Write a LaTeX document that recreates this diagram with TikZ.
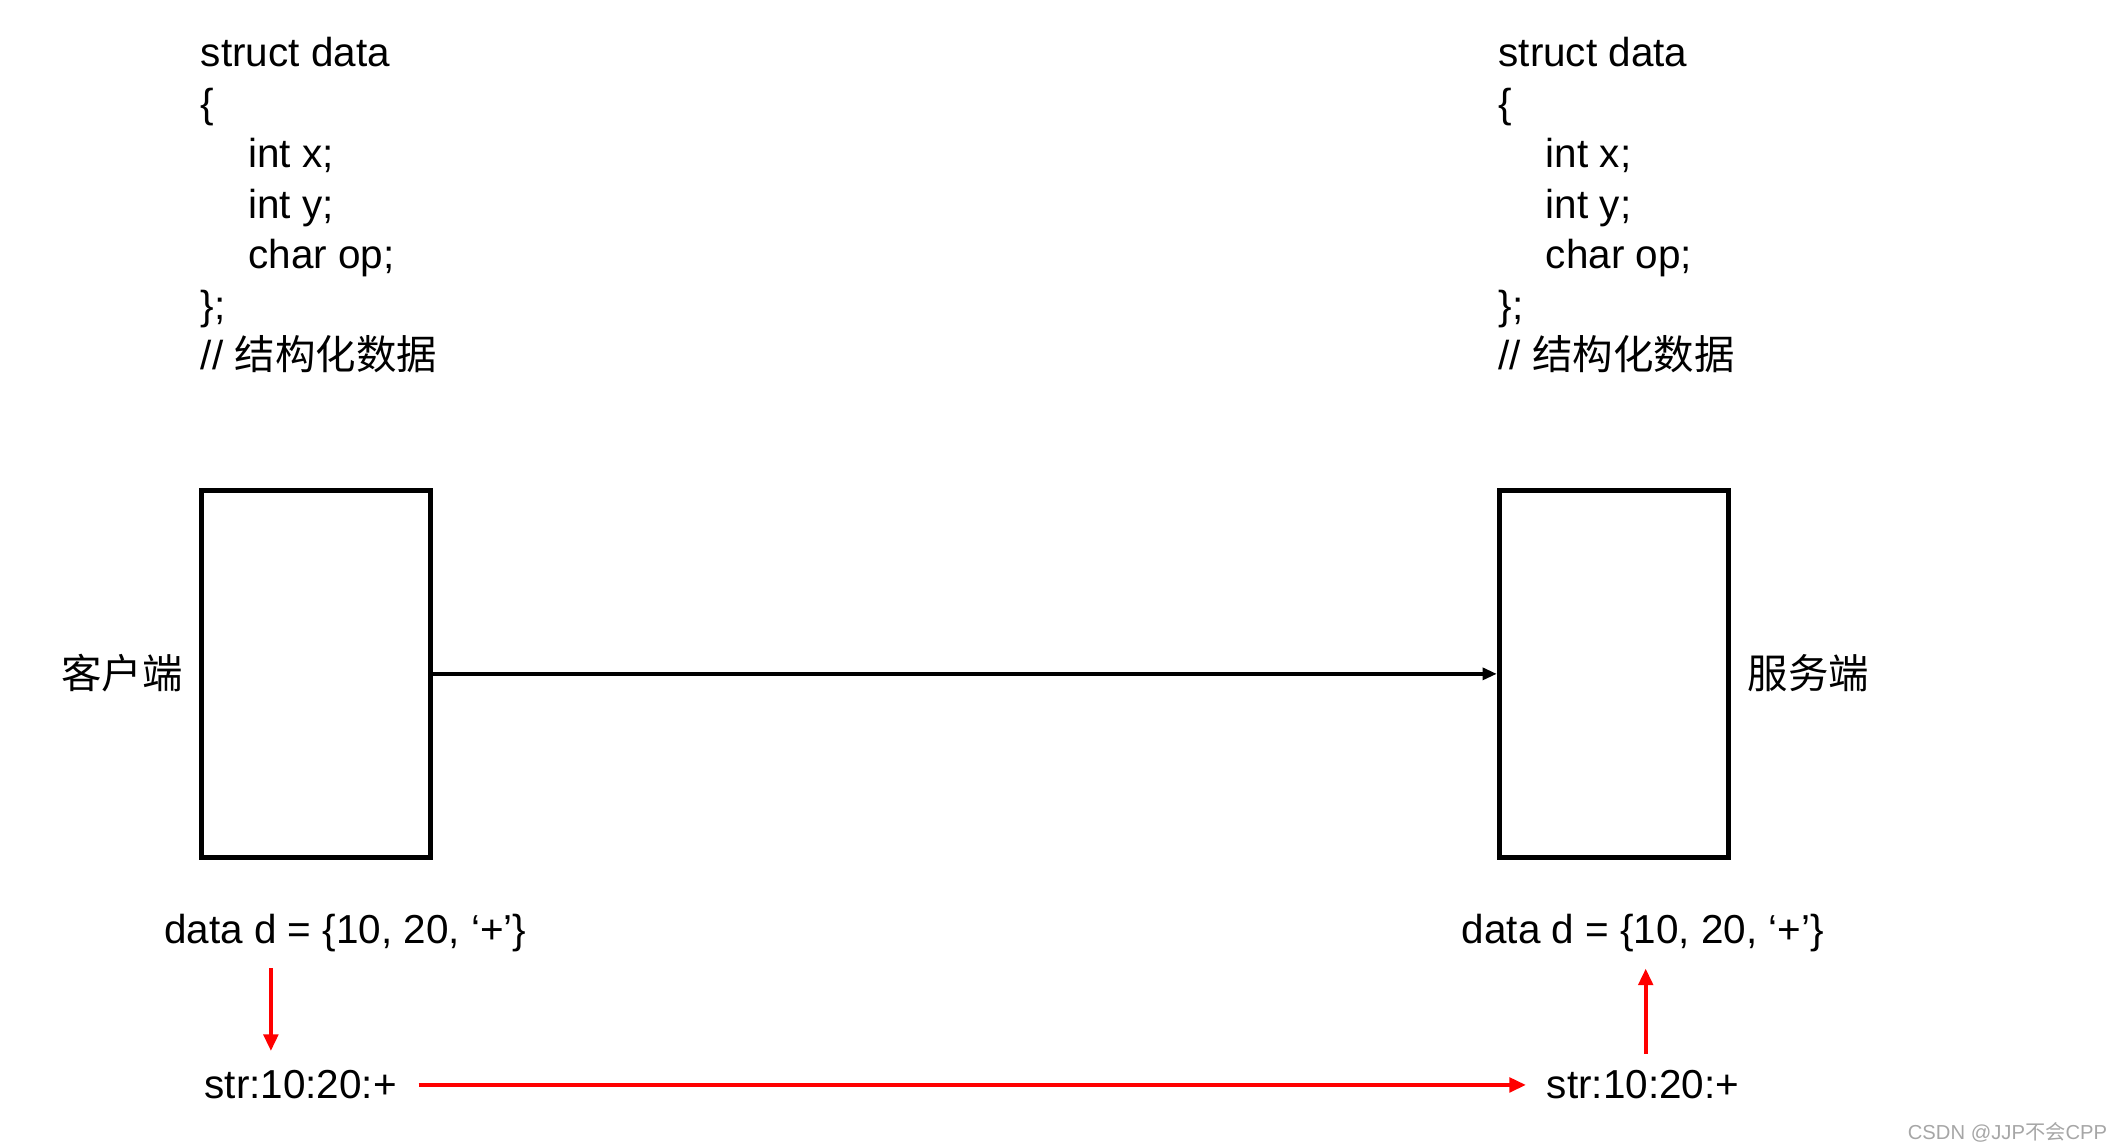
\documentclass[tikz,border=0pt]{standalone}
\usepackage{fontspec}
\setmainfont{Liberation Sans}
\newfontfamily\cjk{Noto Sans CJK SC}
\usetikzlibrary{arrows.meta}
\begin{document}
\begin{tikzpicture}[
        x=0.02cm, y=-0.02cm,
        code/.style={anchor=base west, inner sep=0pt, font=\fontsize{17}{20}\selectfont},
        label/.style={inner sep=0pt, font=\fontsize{17}{20}\selectfont},
        hostbox/.style={draw, line width=2.2pt, minimum width=3.38cm, minimum height=5.42cm, inner sep=0pt},
        redarrow/.style={-{Triangle[length=7pt,width=6pt]}, red, line width=1.8pt},
        blackarrow/.style={-{Triangle[length=6pt,width=5pt]}, line width=1.8pt}
    ]
    \useasboundingbox (0,0) rectangle (1560,846);
    % 结构体定义
    \foreach \side/\x in {l/148, r/1106} {
        \node[code] (\side1) at (\x,49)  {struct data};
        \node[code] (\side2) at (\x,87)  {\{};
        \node[code] (\side3) at (\x+35,124) {int x;};
        \node[code] (\side4) at (\x+35,161) {int y;};
        \node[code] (\side5) at (\x+35,198) {char op;};
        \node[code] (\side6) at (\x,236) {\};};
        \node[code] (\side7) at (\x,273) {// {\cjk 结构化数据}};
    }
    % 客户端 / 服务端
    \node[hostbox] (client) at (233.5,497.5) {};
    \node[hostbox] (server) at (1191.5,497.5) {};
    \node[label] (clientname) at (90,497) {\cjk 客户端};
    \node[label] (servername) at (1335,497) {\cjk 服务端};
    \draw[blackarrow] (client.east) -- (server.west);
    % 序列化
    \node[label] (ldata) at (255,689) {data d = \{10, 20, ‘+’\}};
    \node[label] (rdata) at (1213,689) {data d = \{10, 20, ‘+’\}};
    \node[label] (lstr) at (222,801) {str:10:20:+};
    \node[label] (rstr) at (1213,801) {str:10:20:+};
    \coordinate (ltop) at (200,715);
    \coordinate (lbot) at (200,776);
    \coordinate (rtop) at (1215,715);
    \coordinate (rbot) at (1215,778);
    \draw[redarrow] (ltop) -- (lbot);
    \draw[redarrow] (rbot) -- (rtop);
    \draw[redarrow] ([xshift=-0.22cm]lstr.east -| 320,801) -- ([xshift=-0.3cm]rstr.west);
    % 水印
    \node[anchor=east, inner sep=0pt, text=gray!70, font=\fontsize{8.5}{10}\selectfont] (mark) at (1556,836) {CSDN @JJP{\cjk 不会}CPP};
\end{tikzpicture}
\end{document}
